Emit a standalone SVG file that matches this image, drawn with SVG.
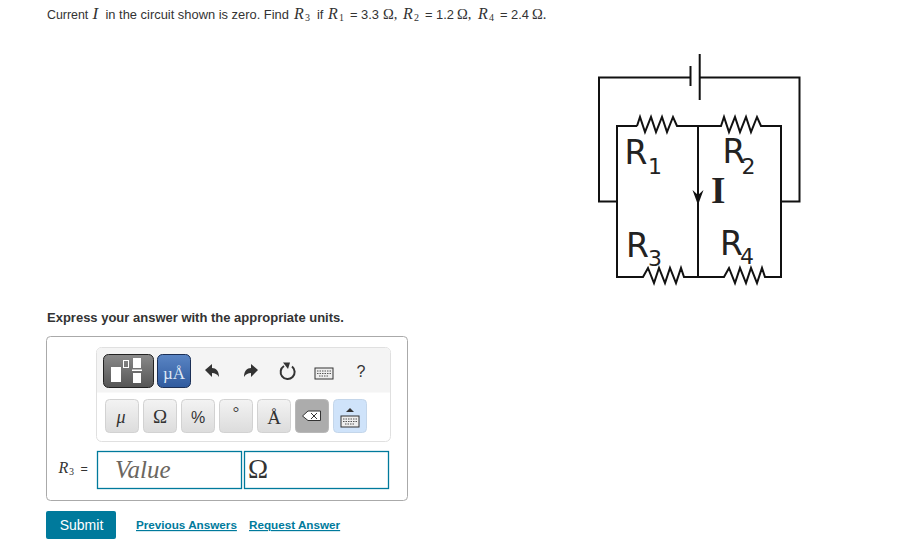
<svg xmlns="http://www.w3.org/2000/svg" width="901" height="545" viewBox="0 0 901 545">
<defs>
<linearGradient id="gk" x1="0" y1="0" x2="0" y2="1"><stop offset="0" stop-color="#f3f3f3"/><stop offset="1" stop-color="#dcdcdc"/></linearGradient>
<linearGradient id="gd" x1="0" y1="0" x2="0" y2="1"><stop offset="0" stop-color="#8a8a8a"/><stop offset="1" stop-color="#555"/></linearGradient>
<linearGradient id="gb" x1="0" y1="0" x2="0" y2="1"><stop offset="0" stop-color="#5a85c4"/><stop offset="1" stop-color="#2f5a9e"/></linearGradient>
</defs>
<style>
text{font-family:"Liberation Sans",Arial,sans-serif;fill:#333}
.s{font-family:"Liberation Serif","Times New Roman",serif}
.i{font-family:"Liberation Serif","Times New Roman",serif;font-style:italic}
.w{fill:none;stroke:#111;stroke-width:2;stroke-linejoin:miter}
.d{font-family:"DejaVu Sans",sans-serif;font-size:33px;fill:#222}
.ds{font-size:22px}
.k{fill:url(#gk);stroke:#d2d2d2}
.l{font-size:11.700px;font-weight:bold;text-decoration:underline}
.ic{fill:#333}
.in{fill:#fff;stroke:#007a9c;stroke-width:1.3}
.kb{stroke:#555;stroke-dasharray:1.500 1}
</style>
<rect width="901" height="545" fill="#fff"/>
<g id="question">
<text y="19" font-size="12.900"><tspan x="47" font-size="12.400">Current</tspan><tspan x="92.500" class="i" font-size="17">I</tspan><tspan x="105.500">in the circuit shown is zero. Find</tspan><tspan x="294" class="i" font-size="16">R</tspan><tspan x="305" y="21" class="s" font-size="10">3</tspan><tspan x="317" y="19">if</tspan><tspan x="328" class="i" font-size="16">R</tspan><tspan x="339" y="21" class="s" font-size="10">1</tspan><tspan x="350" y="19">= 3.3</tspan><tspan x="383" class="s" font-size="14.500">Ω,</tspan><tspan x="403" class="i" font-size="16">R</tspan><tspan x="414" y="21" class="s" font-size="10">2</tspan><tspan x="425" y="19">= 1.2</tspan><tspan x="457" class="s" font-size="14.500">Ω,</tspan><tspan x="478" class="i" font-size="16">R</tspan><tspan x="489" y="21" class="s" font-size="10">4</tspan><tspan x="500" y="19">= 2.4</tspan><tspan x="532" class="s" font-size="14.500">Ω.</tspan></text>
</g>
<g id="connectors">
<path class="w" d="M690.500 77.500H599V201.500H617M700 77.500H799.500V201.500H781"/>
<path class="w" d="M690.500 66V86M699.700 54V100"/>
<path class="w" d="M637 126L640 117L645 132L651 117L656 132L662 117L667 132L673 117L677 126H721L724 117L729 132L735 117L740 132L746 117L751 132L757 117L761 126H781V277H765L762 268L757 283L751 268L746 283L740 268L735 283L729 268L724 277H684L681 268L676 283L670 268L665 283L659 268L654 283L648 268L643 277H617V126H637"/>
<path class="w" d="M698 126V277"/>
<path d="M698 205L692.500 190L698 195L703.500 190Z" fill="#111"/>
</g>
<g id="r1"><text class="d" x="624.500" y="164">R<tspan class="ds" x="648" y="174">1</tspan></text></g>
<g id="r2"><text class="d" x="722.500" y="163">R<tspan class="ds" x="741.500" y="174">2</tspan></text></g>
<g id="r3"><text class="d" x="626" y="257">R<tspan class="ds" x="648" y="266">3</tspan></text></g>
<g id="r4"><text class="d" x="720" y="255">R<tspan class="ds" x="740" y="264">4</tspan></text></g>
<g id="current"><text class="s" x="711" y="203" font-size="37" font-weight="bold" style="fill:#222">I</text></g>

<g id="prompt"><text x="47" y="322" font-size="13" font-weight="bold">Express your answer with the appropriate units.</text></g>
<g id="panel">
<rect x="46.500" y="336.500" width="361" height="164" rx="4" fill="#fff" stroke="#aaa"/>
<rect x="96.500" y="347.500" width="294" height="94" rx="5" fill="#fff" stroke="#e0e0e0"/>
<path d="M97 392.500V352a4 4 0 0 1 4-4H386a4 4 0 0 1 4 4V392.500Z" fill="#f4f4f4"/>
</g>
<g id="templates-btn">
<rect x="103.500" y="354.500" width="50" height="33" rx="5" fill="url(#gd)" stroke="#222"/>
<rect x="111" y="367" width="10" height="15" fill="#fff"/>
<rect x="123.500" y="360.500" width="5" height="7" fill="none" stroke="#fff"/>
<rect x="133" y="358" width="8" height="10" fill="#fff"/>
<rect x="132" y="369.500" width="10" height="1.500" fill="#fff"/>
<rect x="133" y="373" width="8" height="10" fill="#fff"/>
</g>
<g id="units-btn">
<rect x="157.500" y="354.500" width="33" height="33" rx="5" fill="url(#gb)" stroke="#1b2f55"/>
<text class="s" x="174" y="379" font-size="17" text-anchor="middle" style="fill:#dfe8f5">µÅ</text>
</g>
<g id="undo"><path class="ic" d="M205 370L212 364V368C216 368 219 371 219 377C217 374 215 373 212 373V377Z"/></g>
<g id="redo"><path class="ic" d="M258 370L251 364V368C247 368 244 371 244 377C246 374 248 373 251 373V377Z"/></g>
<g id="reset"><path d="M284 366A7 7 0 1 0 292 366.500" fill="none" stroke="#333" stroke-width="2"/><path class="ic" d="M283 362.500L290 362.500L288 369Z"/></g>
<g id="kbd1"><rect x="315" y="368" width="18" height="11" fill="#eee" stroke="#333"/><path class="kb" d="M317 371H331M317 373.500H331M319 376H329"/></g>
<g id="help"><text x="361" y="377" font-size="16" text-anchor="middle">?</text></g>
<g id="key-mu"><rect class="k" x="105.500" y="399.500" width="33" height="33" rx="4"/><text class="i" x="121" y="423" font-size="18" text-anchor="middle">μ</text></g>
<g id="key-ohm"><rect class="k" x="143.500" y="399.500" width="33" height="33" rx="4"/><text class="s" x="160" y="423" font-size="19" text-anchor="middle">Ω</text></g>
<g id="key-pct"><rect class="k" x="181.500" y="399.500" width="33" height="33" rx="4"/><text x="198" y="423" font-size="16" text-anchor="middle">%</text></g>
<g id="key-deg"><rect class="k" x="219.500" y="399.500" width="33" height="33" rx="4"/><text class="s" x="236" y="418" font-size="16" text-anchor="middle">°</text></g>
<g id="key-ang"><rect class="k" x="257.500" y="399.500" width="33" height="33" rx="4"/><text class="s" x="274" y="424" font-size="19" text-anchor="middle">Å</text></g>
<g id="key-back"><rect x="295.500" y="399.500" width="33" height="33" rx="4" fill="#acacac" stroke="#b8b8b8"/><path d="M302.500 416L308 411H320.500V420.500H308Z" fill="#fff" stroke="#333"/><path d="M311 413L317 419M317 413L311 419" stroke="#333"/></g>
<g id="key-kbd"><rect x="333.500" y="399.500" width="33" height="33" rx="4" fill="#cfe3fa" stroke="#c4d6ea"/><path d="M346 412L350 408L354 412Z" fill="#333"/><rect x="341" y="416" width="18" height="11" fill="#eee" stroke="#333"/><path class="kb" d="M343 419H357M343 421.500H357M345 424H355"/></g>
<g id="answer">
<text y="473" font-size="12.500"><tspan x="58.500" class="i" font-size="16">R</tspan><tspan x="69" y="475" class="s" font-size="10">3</tspan><tspan x="80.500" y="473">=</tspan></text>
<rect class="in" x="97.500" y="451.500" width="144" height="37"/>
<rect class="in" x="244.500" y="451.500" width="144" height="37"/>
<text class="i" x="115" y="478" font-size="25" style="fill:#6b6660">Value</text>
<text class="s" x="248" y="478" font-size="27">Ω</text>
</g>
<g id="submit">
<rect x="46" y="511" width="70" height="28" rx="2" fill="#007a9c"/>
<text x="81.500" y="530" font-size="14" text-anchor="middle" style="fill:#fff">Submit</text>
</g>
<g id="links">
<text class="l" x="136" y="529" style="fill:#007a9c">Previous Answers</text>
<text class="l" x="249" y="529" style="fill:#007a9c">Request Answer</text>
</g>
</svg>
